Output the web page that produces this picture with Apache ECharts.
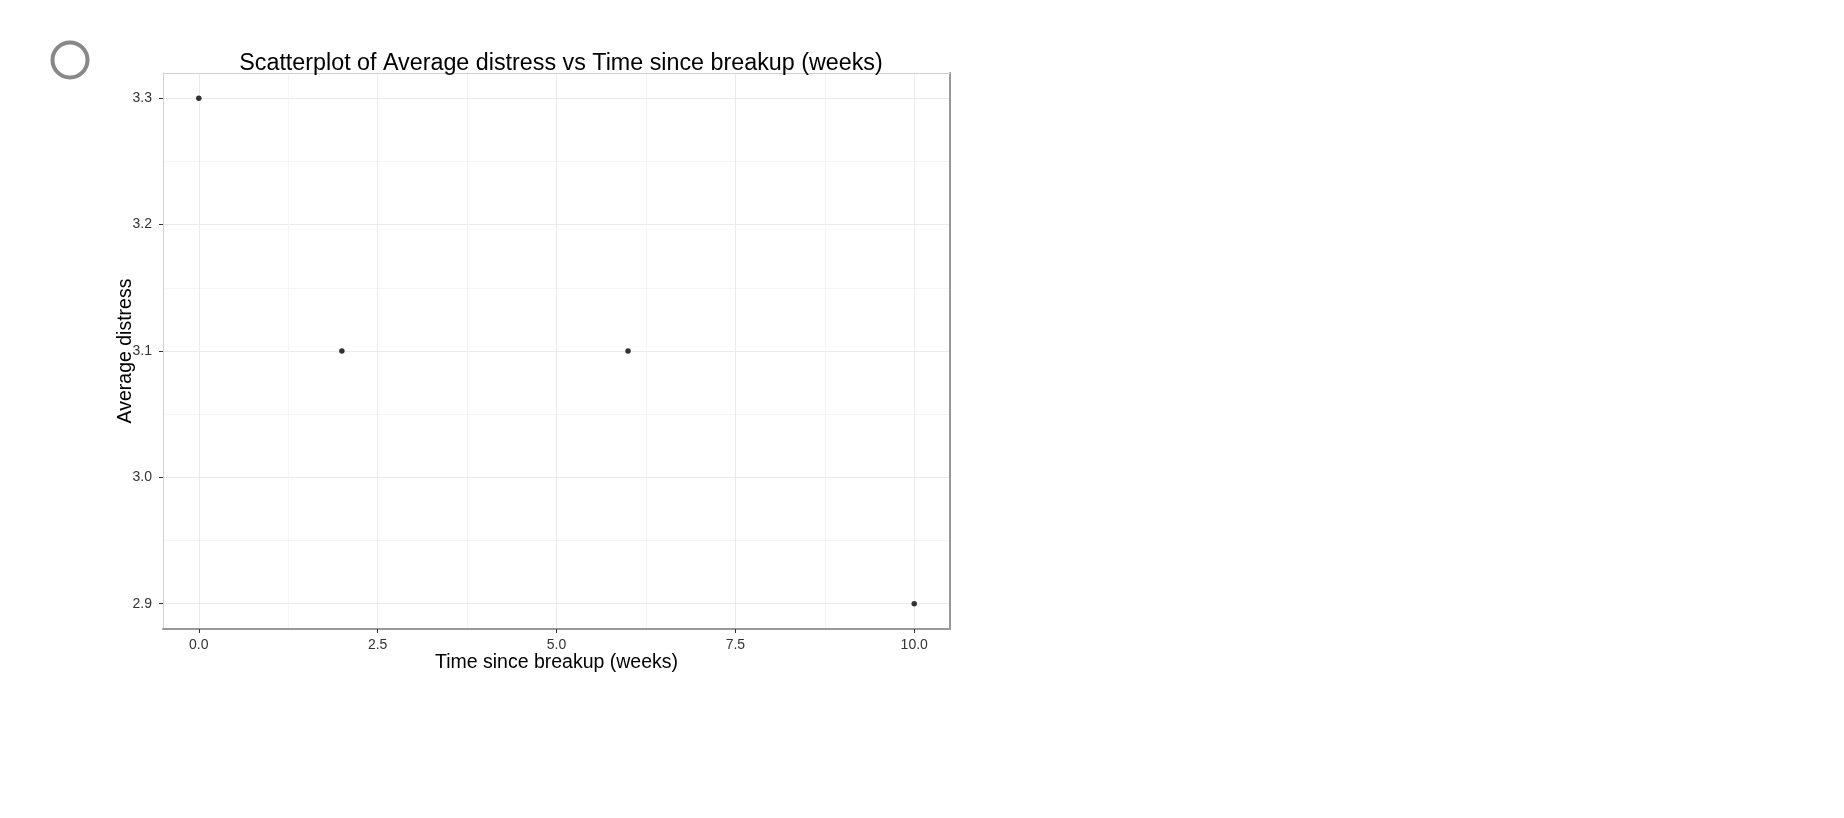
<!DOCTYPE html>
<html>
<head>
<meta charset="utf-8">
<script src="https://cdn.jsdelivr.net/npm/echarts@6/dist/echarts.min.js"></script>
<style>
  html, body { margin: 0; padding: 0; background: #fff; }
  #chart { width: 1844px; height: 818px; }
</style>
</head>
<body>
<div id="chart"></div>
<script>
// data
const weeks = [0, 2, 6, 10];
const distress = [3.3, 3.1, 3.1, 2.9];
const xTicks = [0, 2.5, 5, 7.5, 10];
const yTicks = [2.9, 3.0, 3.1, 3.2, 3.3];

const FONT = 'Liberation Sans, Arial, sans-serif';
const MAJOR = '#ebebeb';
const MINOR = '#f5f5f5';
const NONE = 'rgba(0,0,0,0)';
// grid lines every 0.25 / 0.01 counted from min; major every 10th step, minor half way
const gridColors = [NONE, NONE, MAJOR, NONE, NONE, NONE, NONE, MINOR, NONE, NONE];

const chart = echarts.init(document.getElementById('chart'));

const points = weeks.map((w, i) => [w, distress[i]]);

const labelStyle = { fontFamily: FONT, fontSize: 14, color: '#333' };
const nameStyle = { fontFamily: FONT, fontSize: 19.5, color: '#000' };

chart.setOption({
	animation: false,
	backgroundColor: '#fff',
	title: {
		text: 'Scatterplot of Average distress vs Time since breakup (weeks)',
		left: 556,
		top: 47,
		textAlign: 'center',
		textStyle: { fontFamily: FONT, fontSize: 23.3, fontWeight: 'normal', color: '#000' }
	},
	graphic: [{
		type: 'circle',
		shape: { cx: 70, cy: 60, r: 17.5 },
		style: { fill: 'none', stroke: '#888', lineWidth: 4 }
	}],
	grid: {
		left: 163, right: 894, top: 73, bottom: 189,
		containLabel: false
	},
	xAxis: [{
		type: 'value',
		min: -0.5, max: 10.5,
		name: 'Time since breakup (weeks)',
		nameLocation: 'middle', nameGap: 24, nameMoveOverlap: false,
		nameTextStyle: nameStyle,
		axisLine: { show: true, onZero: false, lineStyle: { color: '#999', width: 2 } },
		axisTick: { show: true, length: 4, customValues: xTicks, lineStyle: { color: '#333' } },
		axisLabel: {
			margin: 9, customValues: xTicks, ...labelStyle,
			formatter: v => v.toFixed(1)
		},
		splitLine: { show: false }
	}, {
		// grid lines only, same scale as the data axis
		type: 'value',
		position: 'top',
		min: -0.5, max: 10.5, interval: 0.25,
		axisLine: { show: true, onZero: false, lineStyle: { color: '#d0d0d0', width: 1 } },
		axisTick: { show: false },
		axisLabel: { show: false },
		splitLine: { show: true, lineStyle: { color: gridColors, width: 1 } }
	}],
	yAxis: [{
		type: 'value',
		min: 2.88, max: 3.32,
		name: 'Average distress',
		nameLocation: 'middle', nameGap: 27, nameRotate: 90, nameMoveOverlap: false,
		nameTextStyle: nameStyle,
		axisLine: { show: true, onZero: false, lineStyle: { color: '#d0d0d0', width: 1 } },
		axisTick: { show: true, length: 4, customValues: yTicks, lineStyle: { color: '#333' } },
		axisLabel: {
			margin: 11, customValues: yTicks, ...labelStyle,
			formatter: v => v.toFixed(1)
		},
		splitLine: { show: false }
	}, {
		type: 'value',
		position: 'right',
		min: 2.88, max: 3.32, interval: 0.01,
		axisLine: { show: true, onZero: false, lineStyle: { color: '#999', width: 2 } },
		axisTick: { show: false },
		axisLabel: { show: false },
		splitLine: { show: true, lineStyle: { color: gridColors, width: 1 } }
	}],
	series: [{
		type: 'scatter',
		xAxisIndex: 0,
		yAxisIndex: 0,
		data: points,
		symbol: 'circle',
		symbolSize: 5.5,
		itemStyle: { color: '#000' }
	}]
});
</script>
</body>
</html>
